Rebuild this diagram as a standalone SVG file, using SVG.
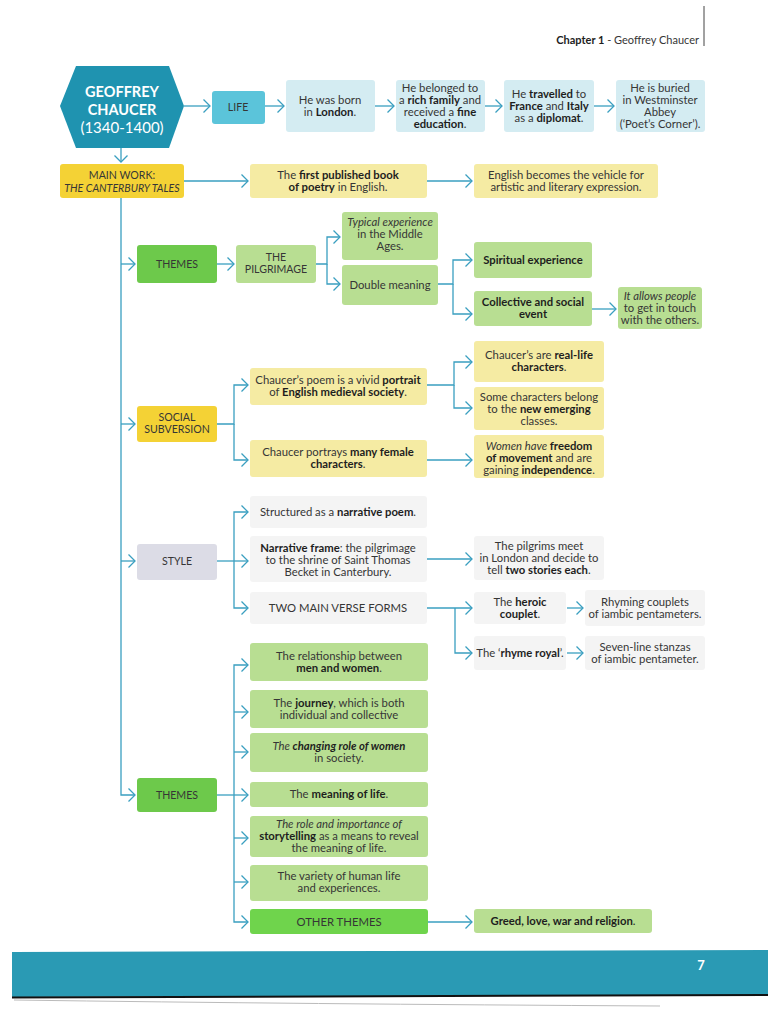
<svg xmlns="http://www.w3.org/2000/svg" width="768" height="1024" viewBox="0 0 768 1024">
<defs>
<marker id="ah" markerUnits="userSpaceOnUse" markerWidth="12" markerHeight="16" refX="9" refY="8" orient="auto">
<path d="M2.5,1.5 L9,8 L2.5,14.5" fill="none" stroke="#3a9fc0" stroke-width="1.3"/>
</marker>
<style>
text{font-family:Lato,"Liberation Sans","DejaVu Sans",sans-serif;font-size:11.3px;fill:#363636;text-anchor:middle}
.b{font-weight:bold;fill:#1e1e1e}
.i{font-style:italic}
.l{font-size:10.6px}
.c path{fill:none;stroke:#3a9fc0;stroke-width:1.3}
.a{marker-end:url(#ah)}
rect{rx:3;ry:3}
.lb{fill:#d4ecf2}
.cy{fill:#5bc4da}
.ye{fill:#f4d235}
.py{fill:#f5eba3}
.gr{fill:#6dc94b}
.lg{fill:#b8de92}
.st{fill:#dcdce6}
.wh{fill:#f4f4f4}
.og{fill:#6fd44c}
</style>
</defs>
<rect x="0" y="0" width="768" height="1024" fill="#ffffff" style="rx:0"/>

<g id="header">
<line x1="704" y1="6" x2="704" y2="46" stroke="#444" stroke-width="1"/>
<text x="699" y="44" style="text-anchor:end;font-size:11px"><tspan class="b">Chapter  1</tspan> - Geoffrey Chaucer</text>
</g>

<g class="c" id="connectors">
<path class="a" d="M184,106 H210"/>
<path class="a" d="M265,106 H284"/>
<path class="a" d="M375,106 H394"/>
<path class="a" d="M485,106 H502"/>
<path class="a" d="M594,106 H614"/>
<path class="a" d="M121,148 V162"/>
<path class="a" d="M184,181 H248"/>
<path class="a" d="M427,181 H472"/>
<path class="a" d="M121,198 V795 H135"/>
<path class="a" d="M121,264 H135"/>
<path class="a" d="M121,424 H135"/>
<path class="a" d="M121,561 H135"/>
<path class="a" d="M217,264 H234"/>
<path class="a" d="M316,264 H327 V237 H340"/>
<path class="a" d="M327,264 V284 H340"/>
<path class="a" d="M438,284 H453 V260 H472"/>
<path class="a" d="M453,284 V314 H472"/>
<path class="a" d="M592,309 H616"/>
<path class="a" d="M217,424 H234 V385 H248"/>
<path class="a" d="M234,424 V460 H248"/>
<path class="a" d="M427,385 H454 V362 H472"/>
<path class="a" d="M454,385 V408 H472"/>
<path class="a" d="M427,460 H472"/>
<path class="a" d="M217,561 H248"/>
<path class="a" d="M234,561 V512 H248"/>
<path class="a" d="M234,561 V608 H248"/>
<path class="a" d="M427,559 H472"/>
<path class="a" d="M427,608 H472"/>
<path class="a" d="M455,608 V653 H472"/>
<path class="a" d="M567,608 H583"/>
<path class="a" d="M567,653 H583"/>
<path class="a" d="M217,795 H248"/>
<path class="a" d="M234,795 V665 H248"/>
<path class="a" d="M234,795 V922 H248"/>
<path class="a" d="M234,712 H248"/>
<path class="a" d="M234,752 H248"/>
<path class="a" d="M234,838 H248"/>
<path class="a" d="M234,882 H248"/>
<path class="a" d="M428,922 H472"/>
</g>

<g id="n-chaucer">
<polygon points="60,106 76,66 169,66 184,106 169,148 76,148" fill="#1f93b0"/>
<text x="122" y="97" class="b" style="fill:#fff;font-size:14.5px">GEOFFREY</text>
<text x="122" y="115" class="b" style="fill:#fff;font-size:14.5px">CHAUCER</text>
<text x="122" y="133" style="fill:#fff;font-size:15px">(1340-1400)</text>
</g>

<g id="n-life"><rect class="cy" x="212" y="91" width="53" height="33"/><text x="238" y="111" class="l">LIFE</text></g>
<g id="n-born"><rect class="lb" x="286" y="80" width="89" height="52"/>
<text x="330" y="104">He was born</text><text x="330" y="116">in <tspan class="b">London</tspan>.</text></g>
<g id="n-family"><rect class="lb" x="396" y="80" width="89" height="52"/>
<text x="440" y="92">He belonged to</text><text x="440" y="104">a <tspan class="b">rich family</tspan> and</text><text x="440" y="116">received a <tspan class="b">fine</tspan></text><text x="440" y="128"><tspan class="b">education</tspan>.</text></g>
<g id="n-travel"><rect class="lb" x="504" y="80" width="90" height="52"/>
<text x="549" y="98">He <tspan class="b">travelled</tspan> to</text><text x="549" y="110"><tspan class="b">France</tspan> and <tspan class="b">Italy</tspan></text><text x="549" y="122">as a <tspan class="b">diplomat</tspan>.</text></g>
<g id="n-buried"><rect class="lb" x="616" y="80" width="89" height="52"/>
<text x="660" y="92">He is buried</text><text x="660" y="104">in Westminster</text><text x="660" y="116">Abbey</text><text x="660" y="128">(‘Poet’s Corner’).</text></g>

<g id="n-mainwork"><rect class="ye" x="60" y="164" width="124" height="34"/>
<text x="122" y="179" class="l">MAIN WORK:</text><text x="122" y="192" class="i l">THE CANTERBURY TALES</text></g>
<g id="n-firstbook"><rect class="py" x="250" y="164" width="177" height="34"/>
<text x="338" y="179">The <tspan class="b">first published book</tspan></text><text x="338" y="191"><tspan class="b">of poetry</tspan> in English.</text></g>
<g id="n-vehicle"><rect class="py" x="474" y="164" width="184" height="34"/>
<text x="566" y="179">English becomes the vehicle for</text><text x="566" y="191">artistic and literary expression.</text></g>

<g id="n-themes1"><rect class="gr" x="137" y="245" width="80" height="38"/><text x="177" y="268" class="l">THEMES</text></g>
<g id="n-pilgrimage"><rect class="lg" x="236" y="245" width="80" height="38"/>
<text x="276" y="261" class="l">THE</text><text x="276" y="273" class="l">PILGRIMAGE</text></g>
<g id="n-typical"><rect class="lg" x="342" y="212" width="96" height="48"/>
<text x="390" y="226" class="i">Typical experience</text><text x="390" y="238">in the Middle</text><text x="390" y="250">Ages.</text></g>
<g id="n-double"><rect class="lg" x="342" y="265" width="96" height="40"/><text x="390" y="289">Double meaning</text></g>
<g id="n-spiritual"><rect class="lg" x="474" y="242" width="118" height="36"/><text x="533" y="264" class="b">Spiritual experience</text></g>
<g id="n-collective"><rect class="lg" x="474" y="291" width="118" height="35"/>
<text x="533" y="306" class="b">Collective and social</text><text x="533" y="318" class="b">event</text></g>
<g id="n-allows"><rect class="lg" x="618" y="287" width="84" height="42"/>
<text x="660" y="300" class="i">It allows people</text><text x="660" y="312">to get in touch</text><text x="660" y="324">with the others.</text></g>

<g id="n-social"><rect class="ye" x="137" y="406" width="80" height="36"/>
<text x="177" y="421" class="l">SOCIAL</text><text x="177" y="433" class="l">SUBVERSION</text></g>
<g id="n-portrait"><rect class="py" x="250" y="368" width="177" height="37"/>
<text x="338" y="384">Chaucer’s poem is a vivid <tspan class="b">portrait</tspan></text><text x="338" y="396">of <tspan class="b">English medieval society</tspan>.</text></g>
<g id="n-female"><rect class="py" x="250" y="440" width="177" height="37"/>
<text x="338" y="456">Chaucer portrays <tspan class="b">many female</tspan></text><text x="338" y="468"><tspan class="b">characters</tspan>.</text></g>
<g id="n-reallife"><rect class="py" x="474" y="341" width="130" height="41"/>
<text x="539" y="359">Chaucer’s are <tspan class="b">real-life</tspan></text><text x="539" y="371"><tspan class="b">characters</tspan>.</text></g>
<g id="n-classes"><rect class="py" x="474" y="387" width="130" height="43"/>
<text x="539" y="401">Some characters belong</text><text x="539" y="413">to the <tspan class="b">new emerging</tspan></text><text x="539" y="425">classes.</text></g>
<g id="n-freedom"><rect class="py" x="474" y="435" width="130" height="43"/>
<text x="539" y="450"><tspan class="i">Women have </tspan><tspan class="b">freedom</tspan></text><text x="539" y="462"><tspan class="b">of movement</tspan> and are</text><text x="539" y="474">gaining <tspan class="b">independence</tspan>.</text></g>

<g id="n-style"><rect class="st" x="137" y="544" width="80" height="36"/><text x="177" y="565" class="l">STYLE</text></g>
<g id="n-structured"><rect class="wh" x="250" y="496" width="177" height="32"/>
<text x="338" y="516">Structured as a <tspan class="b">narrative poem</tspan>.</text></g>
<g id="n-frame"><rect class="wh" x="250" y="536" width="177" height="46"/>
<text x="338" y="552"><tspan class="b">Narrative frame</tspan>: the pilgrimage</text><text x="338" y="564">to the shrine of Saint Thomas</text><text x="338" y="576">Becket in Canterbury.</text></g>
<g id="n-meet"><rect class="wh" x="474" y="536" width="130" height="44"/>
<text x="539" y="550">The pilgrims meet</text><text x="539" y="562">in London and decide to</text><text x="539" y="574">tell <tspan class="b">two stories each</tspan>.</text></g>
<g id="n-verse"><rect class="wh" x="250" y="592" width="177" height="32"/><text x="338" y="612">TWO MAIN VERSE FORMS</text></g>
<g id="n-heroic"><rect class="wh" x="474" y="592" width="92" height="32"/>
<text x="520" y="606">The <tspan class="b">heroic</tspan></text><text x="520" y="618"><tspan class="b">couplet</tspan>.</text></g>
<g id="n-rhyming"><rect class="wh" x="585" y="590" width="120" height="36"/>
<text x="645" y="606">Rhyming couplets</text><text x="645" y="618">of iambic pentameters.</text></g>
<g id="n-royal"><rect class="wh" x="474" y="636" width="92" height="34"/>
<text x="520" y="657">The ‘<tspan class="b">rhyme royal</tspan>’.</text></g>
<g id="n-seven"><rect class="wh" x="585" y="636" width="120" height="34"/>
<text x="645" y="651">Seven-line stanzas</text><text x="645" y="663">of iambic pentameter.</text></g>

<g id="n-themes2"><rect class="gr" x="137" y="778" width="80" height="34"/><text x="177" y="799" class="l">THEMES</text></g>
<g id="n-relationship"><rect class="lg" x="250" y="643" width="178" height="38"/>
<text x="339" y="660">The relationship between</text><text x="339" y="672"><tspan class="b">men and women</tspan>.</text></g>
<g id="n-journey"><rect class="lg" x="250" y="690" width="178" height="38"/>
<text x="339" y="707">The <tspan class="b">journey</tspan>, which is both</text><text x="339" y="719">individual and collective</text></g>
<g id="n-role"><rect class="lg" x="250" y="733" width="178" height="39"/>
<text x="339" y="750" class="i">The <tspan class="b">changing role of women</tspan></text><text x="339" y="762">in society.</text></g>
<g id="n-meaning"><rect class="lg" x="250" y="782" width="178" height="25"/>
<text x="339" y="798">The <tspan class="b">meaning of life</tspan>.</text></g>
<g id="n-storytelling"><rect class="lg" x="250" y="816" width="178" height="41"/>
<text x="339" y="828" class="i">The role and importance of</text><text x="339" y="840"><tspan class="b">storytelling</tspan> as a means to reveal</text><text x="339" y="852">the meaning of life.</text></g>
<g id="n-variety"><rect class="lg" x="250" y="865" width="178" height="36"/>
<text x="339" y="880">The variety of human life</text><text x="339" y="892">and experiences.</text></g>
<g id="n-other"><rect class="og" x="250" y="909" width="178" height="25"/><text x="339" y="926">OTHER THEMES</text></g>
<g id="n-greed"><rect class="lg" x="474" y="909" width="178" height="24"/>
<text x="563" y="925" class="b">Greed, love, war and religion<tspan style="font-weight:normal">.</tspan></text></g>

<g id="footer">
<polygon points="12,952 768,950 768,995 12,997" fill="#2a9ab4"/>
<line x1="12" y1="997.5" x2="768" y2="995" stroke="#111" stroke-width="2"/>
<path d="M14,1000 Q300,1004 660,1006" fill="none" stroke="#bbb" stroke-width="1"/>
<text x="701" y="970" class="b" style="fill:#fff;font-size:13px">7</text>
</g>
</svg>
